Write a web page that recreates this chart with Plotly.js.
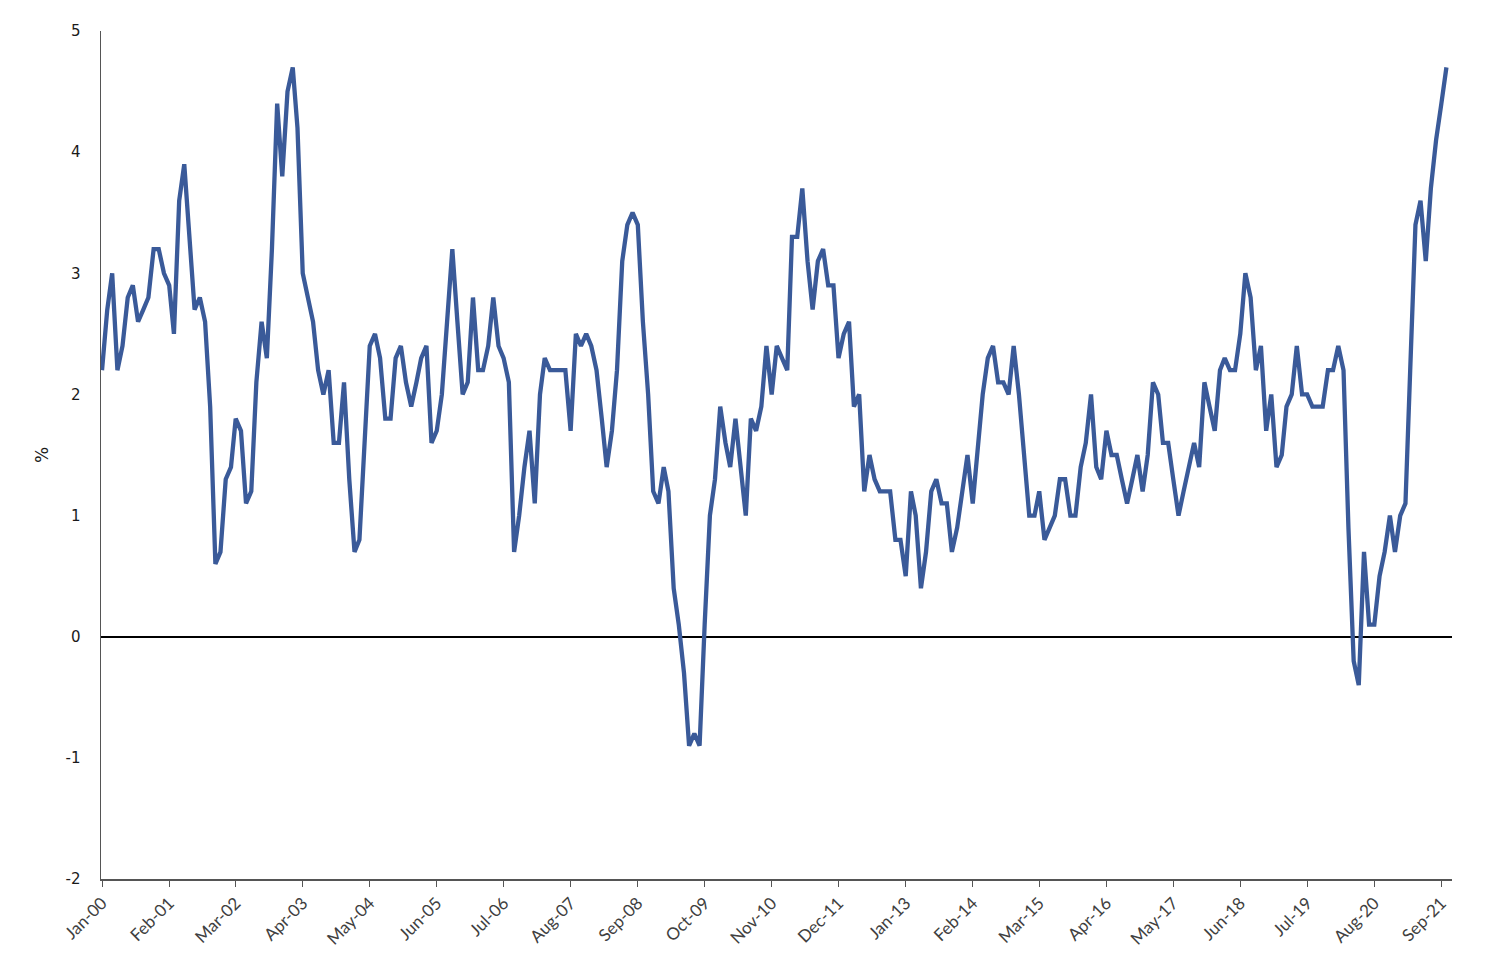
<!DOCTYPE html>
<html>
<head>
<meta charset="utf-8">
<script src="https://cdn.plot.ly/plotly-3.0.1.min.js"></script>
<style>
  html, body { margin: 0; padding: 0; background: #fff; }
  #chart { width: 1496px; height: 978px; }
</style>
</head>
<body>
<div id="chart"></div>
<script>
// Monthly year-on-year inflation, %, Jan-2000 .. Oct-2021
const startYear = 2000;
const values2000 = [2.2, 2.7, 3.0, 2.2, 2.4, 2.8, 2.9, 2.6, 2.7, 2.8, 3.2, 3.2];
const values2001 = [3.0, 2.9, 2.5, 3.6, 3.9, 3.3, 2.7, 2.8, 2.6, 1.9, 0.6, 0.7];
const values2002 = [1.3, 1.4, 1.8, 1.7, 1.1, 1.2, 2.1, 2.6, 2.3, 3.2, 4.4, 3.8];
const values2003 = [4.5, 4.7, 4.2, 3.0, 2.8, 2.6, 2.2, 2.0, 2.2, 1.6, 1.6, 2.1];
const values2004 = [1.3, 0.7, 0.8, 1.7, 2.4, 2.5, 2.3, 1.8, 1.8, 2.3, 2.4, 2.1];
const values2005 = [1.9, 2.1, 2.3, 2.4, 1.6, 1.7, 2.0, 2.6, 3.2, 2.6, 2.0, 2.1];
const values2006 = [2.8, 2.2, 2.2, 2.4, 2.8, 2.4, 2.3, 2.1, 0.7, 1.0, 1.4, 1.7];
const values2007 = [1.1, 2.0, 2.3, 2.2, 2.2, 2.2, 2.2, 1.7, 2.5, 2.4, 2.5, 2.4];
const values2008 = [2.2, 1.8, 1.4, 1.7, 2.2, 3.1, 3.4, 3.5, 3.4, 2.6, 2.0, 1.2];
const values2009 = [1.1, 1.4, 1.2, 0.4, 0.1, -0.3, -0.9, -0.8, -0.9, 0.1, 1.0, 1.3];
const values2010 = [1.9, 1.6, 1.4, 1.8, 1.4, 1.0, 1.8, 1.7, 1.9, 2.4, 2.0, 2.4];
const values2011 = [2.3, 2.2, 3.3, 3.3, 3.7, 3.1, 2.7, 3.1, 3.2, 2.9, 2.9, 2.3];
const values2012 = [2.5, 2.6, 1.9, 2.0, 1.2, 1.5, 1.3, 1.2, 1.2, 1.2, 0.8, 0.8];
const values2013 = [0.5, 1.2, 1.0, 0.4, 0.7, 1.2, 1.3, 1.1, 1.1, 0.7, 0.9, 1.2];
const values2014 = [1.5, 1.1, 1.5, 2.0, 2.3, 2.4, 2.1, 2.1, 2.0, 2.4, 2.0, 1.5];
const values2015 = [1.0, 1.0, 1.2, 0.8, 0.9, 1.0, 1.3, 1.3, 1.0, 1.0, 1.4, 1.6];
const values2016 = [2.0, 1.4, 1.3, 1.7, 1.5, 1.5, 1.3, 1.1, 1.3, 1.5, 1.2, 1.5];
const values2017 = [2.1, 2.0, 1.6, 1.6, 1.3, 1.0, 1.2, 1.4, 1.6, 1.4, 2.1, 1.9];
const values2018 = [1.7, 2.2, 2.3, 2.2, 2.2, 2.5, 3.0, 2.8, 2.2, 2.4, 1.7, 2.0];
const values2019 = [1.4, 1.5, 1.9, 2.0, 2.4, 2.0, 2.0, 1.9, 1.9, 1.9, 2.2, 2.2];
const values2020 = [2.4, 2.2, 0.9, -0.2, -0.4, 0.7, 0.1, 0.1, 0.5, 0.7, 1.0, 0.7];
const values2021 = [1.0, 1.1, 2.2, 3.4, 3.6, 3.1, 3.7, 4.1, 4.4, 4.7];

const inflation = [].concat(
  values2000, values2001, values2002, values2003, values2004, values2005,
  values2006, values2007, values2008, values2009, values2010, values2011,
  values2012, values2013, values2014, values2015, values2016, values2017,
  values2018, values2019, values2020, values2021
);

// Month categories (first day of each month)
const months = inflation.map((_, i) =>
  (startYear + Math.floor(i / 12)) + '-' + String(i % 12 + 1).padStart(2, '0') + '-01');

// Axis tick labels
const tickDates = ['2000-01-01','2001-02-01','2002-03-01','2003-04-01','2004-05-01','2005-06-01',
  '2006-07-01','2007-08-01','2008-09-01','2009-10-01','2010-11-01','2011-12-01','2013-01-01',
  '2014-02-01','2015-03-01','2016-04-01','2017-05-01','2018-06-01','2019-07-01','2020-08-01','2021-09-01'];
const tickLabels = ['Jan-00','Feb-01','Mar-02','Apr-03','May-04','Jun-05','Jul-06','Aug-07','Sep-08',
  'Oct-09','Nov-10','Dec-11','Jan-13','Feb-14','Mar-15','Apr-16','May-17','Jun-18','Jul-19','Aug-20','Sep-21'];
const yTicks = [-2, -1, 0, 1, 2, 3, 4, 5];

const trace = {
  x: months,
  y: inflation,
  type: 'scatter',
  mode: 'lines',
  line: { color: '#3A5A99', width: 4.3 },
  hoverinfo: 'x+y',
  showlegend: false
};

const layout = {
  width: 1496,
  height: 978,
  margin: { l: 101, r: 44, t: 31, b: 99 },
  paper_bgcolor: '#ffffff',
  plot_bgcolor: '#ffffff',
  showlegend: false,
  xaxis: {
    type: 'date',
    range: ['1999-12-26', '2021-11-03'],
    tickmode: 'array',
    tickvals: tickDates,
    ticktext: tickLabels,
    tickangle: -45,
    ticks: 'outside',
    ticklen: 6,
    tickcolor: '#555',
    tickwidth: 1,
    showline: true,
    linecolor: '#555',
    linewidth: 1.5,
    showgrid: false,
    zeroline: false,
    tickfont: { family: 'Lato, Open Sans, sans-serif', size: 17, color: '#404040' }
  },
  yaxis: {
    range: [-2, 5],
    tickmode: 'array',
    tickvals: yTicks,
    ticktext: yTicks.map(String),
    ticks: 'outside',
    ticklen: 16,
    tickcolor: 'rgba(0,0,0,0)',
    showline: true,
    linecolor: '#555',
    linewidth: 1.5,
    showgrid: false,
    zeroline: true,
    zerolinecolor: '#000000',
    zerolinewidth: 2,
    tickfont: { family: 'DejaVu Sans, sans-serif', size: 15, color: '#1a1a1a' },
    title: { text: '%', font: { family: 'DejaVu Sans, sans-serif', size: 17, color: '#1a1a1a' }, standoff: 12 }
  }
};

Plotly.newPlot('chart', [trace], layout, { displayModeBar: false, staticPlot: true });
</script>
</body>
</html>
